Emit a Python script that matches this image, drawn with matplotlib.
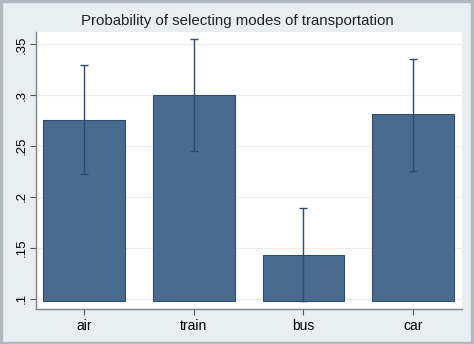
import matplotlib
matplotlib.use("Agg")
import matplotlib.pyplot as plt
import numpy as np

plt.rcParams["font.family"] = ["Liberation Sans", "DejaVu Sans"]

modes = ["air", "train", "bus", "car"]
prob = [0.276, 0.300, 0.1424, 0.281]
ci_low = [0.222, 0.2448, 0.0973, 0.2254]
ci_high = [0.330, 0.3557, 0.1886, 0.336]
base = 0.0973
yticks = [0.1, 0.15, 0.2, 0.25, 0.3, 0.35]
ytick_labels = [".1", ".15", ".2", ".25", ".3", ".35"]

W, H = 474, 344
fig = plt.figure(figsize=(W / 100, H / 100), dpi=100)
fig.patch.set_facecolor("#e9eef1")
ax = fig.add_axes([36 / W, 1 - 308.5 / H, (462 - 36) / W, (308.5 - 31.5) / H])
ax.set_facecolor("white")

# outer frame of the graph region
fig.add_artist(plt.Rectangle((0.003, 0.004), 0.993, 0.992, transform=fig.transFigure,
                             fill=False, edgecolor="#b3b8bc", linewidth=2.4))

x = np.arange(len(modes))
heights = [p - base for p in prob]
ax.bar(x, heights, bottom=base, width=0.745, color="#496b8d",
       edgecolor="#2e4d6b", linewidth=0.8, zorder=2)
lo = [p - l for p, l in zip(prob, ci_low)]
hi = [h - p for p, h in zip(prob, ci_high)]
ax.errorbar(x, prob, yerr=[lo, hi], fmt="none", ecolor="#2b4c6c",
            elinewidth=1.0, capsize=3, capthick=1.0, zorder=3)

ax.set_xlim(-0.436, 3.445)
ax.set_ylim(0.0902, 0.3626)
ax.set_yticks(yticks)
ax.set_yticklabels(ytick_labels, rotation=90, va="center", fontsize=9.5)
ax.set_xticks(x)
ax.set_xticklabels(modes, fontsize=10)
ax.grid(axis="y", color="#ececec", linewidth=0.8, zorder=0)
ax.set_axisbelow(True)

for side in ["top", "right"]:
    ax.spines[side].set_visible(False)
for side in ["left", "bottom"]:
    ax.spines[side].set_color("#7f8387")
    ax.spines[side].set_linewidth(1.0)
ax.tick_params(axis="both", colors="#555555", length=4, width=0.8, labelcolor="black")
ax.tick_params(axis="y", pad=2)

fig.text(0.5, 1 - 21 / H, "Probability of selecting modes of transportation",
         ha="center", va="center", fontsize=10.8, color="#222222")

fig.savefig("out.png", dpi=100, facecolor=fig.get_facecolor())
